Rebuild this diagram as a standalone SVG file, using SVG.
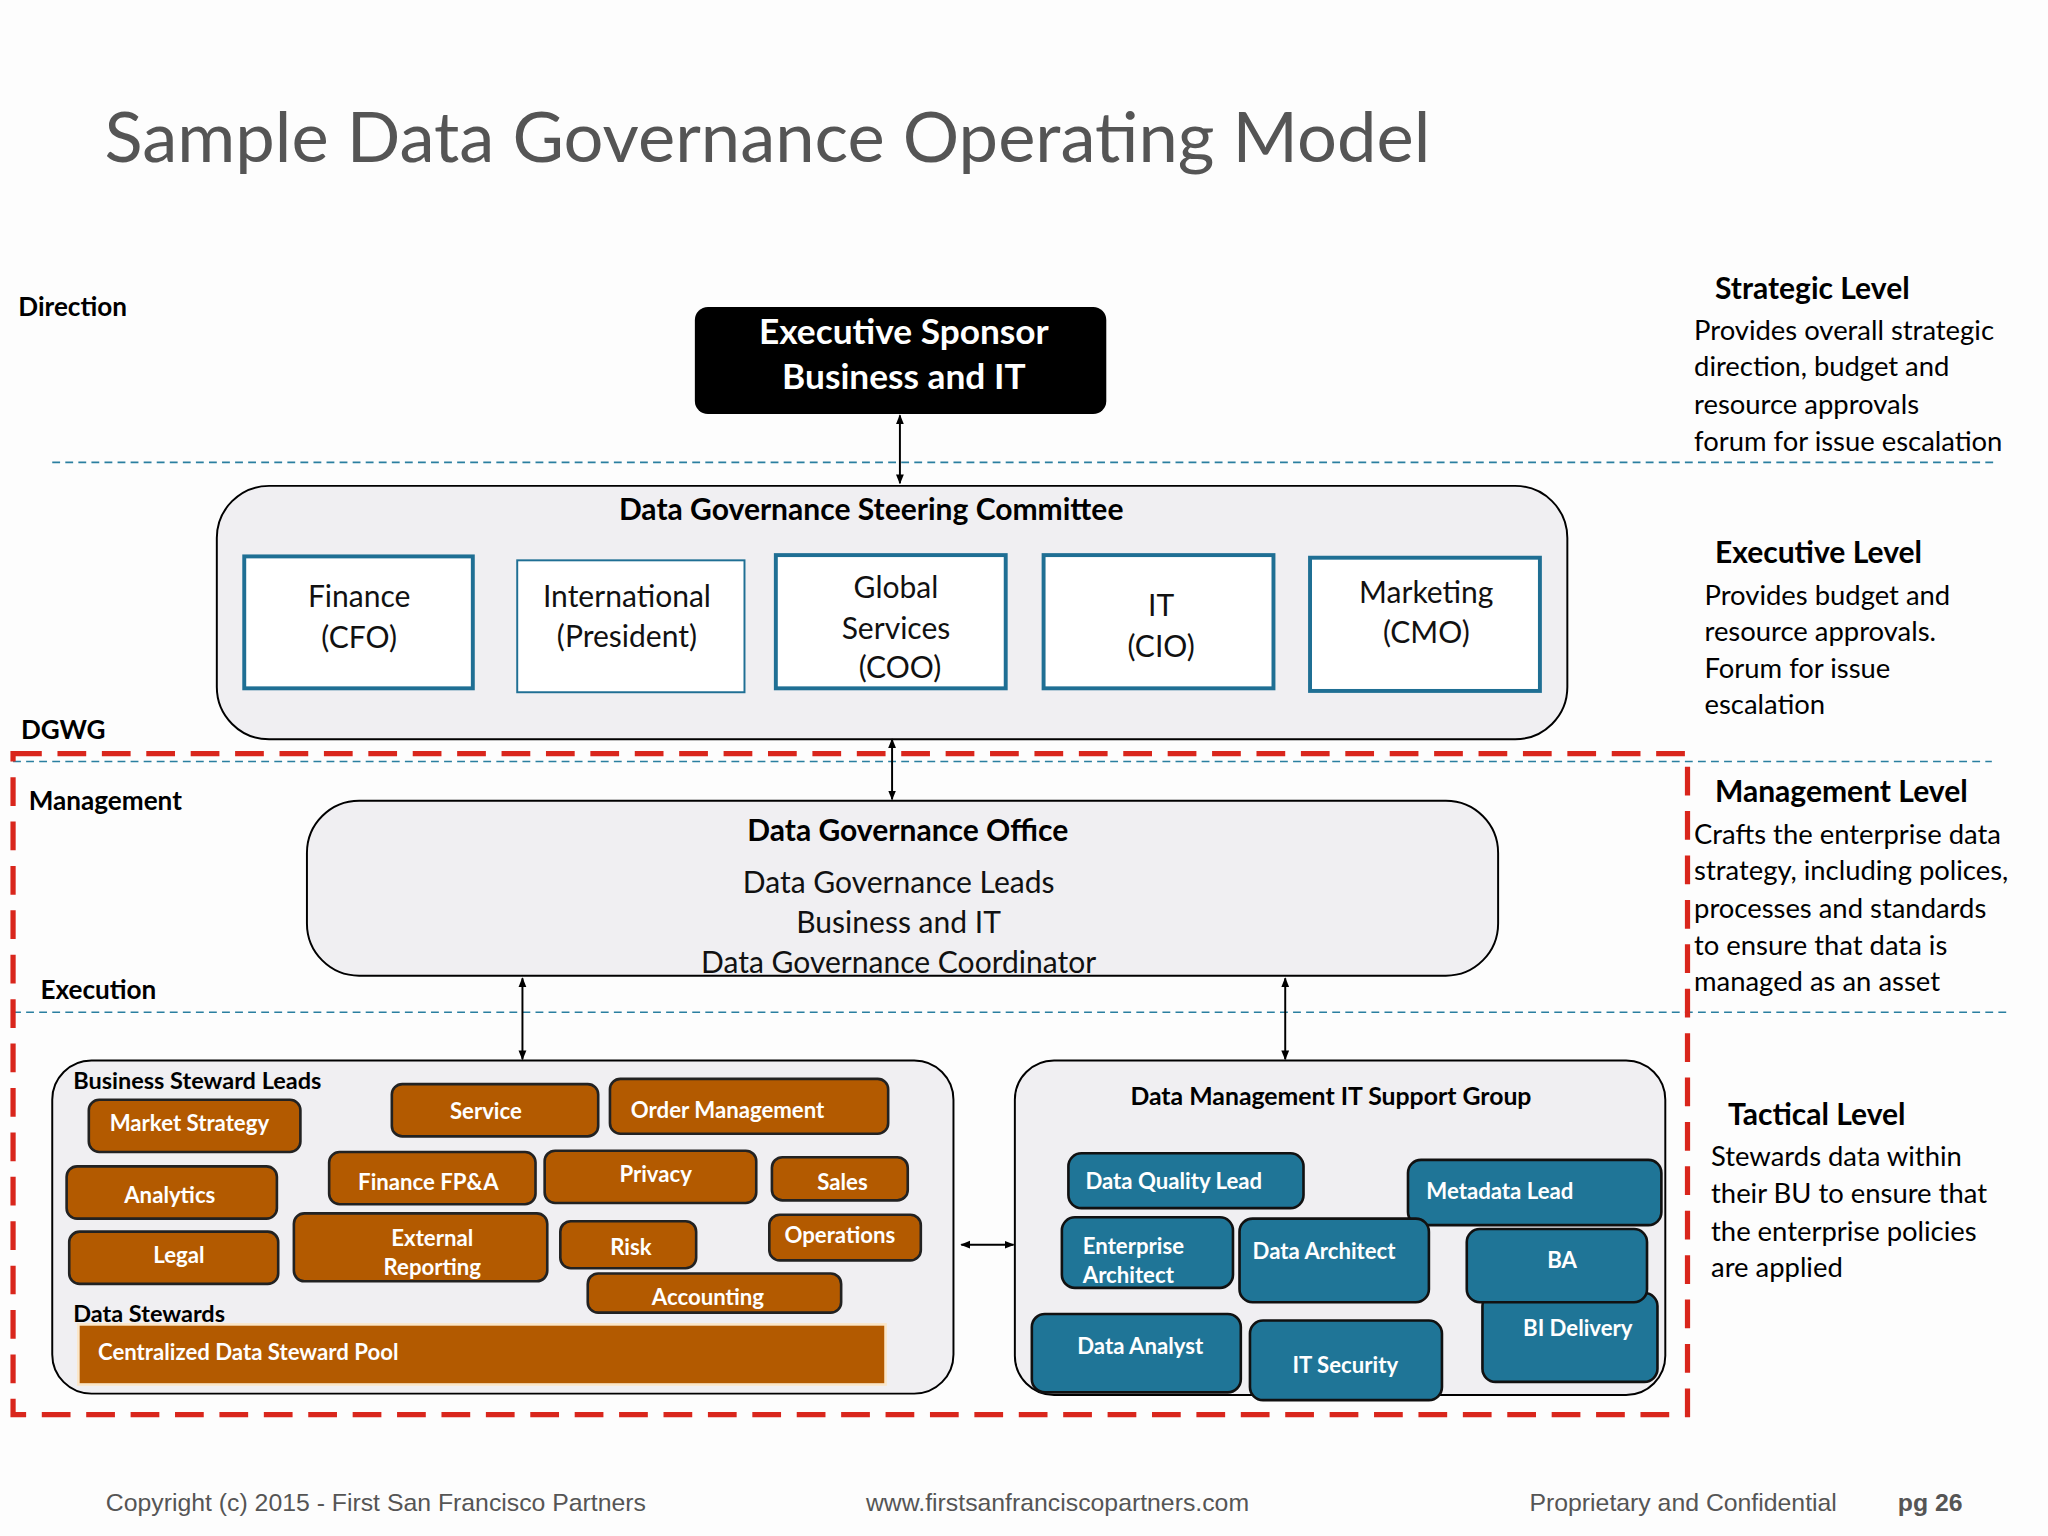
<svg xmlns="http://www.w3.org/2000/svg" width="2048" height="1536" viewBox="0 0 2048 1536">
<defs>
<marker id="ah" viewBox="0 0 10 10" refX="9" refY="5" markerWidth="5" markerHeight="5" orient="auto-start-reverse"><path d="M0,1 L10,5 L0,9 z" fill="#000"/></marker>
<style>
text{font-family:Lato,"Open Sans","Liberation Sans",sans-serif}
.lbl{font-weight:bold;font-size:20px;fill:#000}
.panel{fill:#f0eff2;stroke:#000;stroke-width:1.5}
.mem{fill:#fff;stroke:#1f6f94;stroke-width:3}
.mt{font-size:23px;fill:#111;text-anchor:middle}
.or{fill:#b35a00;stroke:#222;stroke-width:2}
.bl{fill:#1f7597;stroke:#111;stroke-width:2}
.wt{font-weight:bold;font-size:17px;fill:#fff}
.c{text-anchor:middle}
.hd{font-weight:bold;font-size:23px;fill:#000}
.bd{font-size:21px;fill:#000}
.bdash{stroke:#2a7fa0;stroke-width:1.2;stroke-dasharray:6 4;fill:none}
.ft{font-family:"Liberation Sans",Arial,sans-serif;font-size:19px;fill:#555}
.cn{stroke:#000;stroke-width:1.5;fill:none;marker-start:url(#ah);marker-end:url(#ah)}
</style>
</defs>
<rect width="2048" height="1536" fill="#fdfdfd"/>
<g transform="scale(1.30612)">
<text x="80" y="124" style="font-size:54px;fill:#555">Sample Data Governance Operating Model</text>
<text class="lbl" x="14" y="242">Direction</text>
<text class="lbl" x="16" y="566">DGWG</text>
<text class="lbl" x="22" y="620">Management</text>
<text class="lbl" x="31" y="765">Execution</text>
<line class="bdash" x1="40" y1="354" x2="1530" y2="354"/>
<line class="bdash" x1="10" y1="583" x2="1525" y2="583"/>
<line class="bdash" x1="10" y1="775" x2="1540" y2="775"/>
<rect x="10" y="577" width="1282" height="506" fill="none" stroke="#d9261c" stroke-width="4" stroke-dasharray="22 12"/>

<g id="sponsor"><rect x="532" y="235" width="315" height="82" rx="10" fill="#000"/>
<text x="692" y="263" class="c" style="font-weight:bold;font-size:27px;fill:#fff">Executive Sponsor</text>
<text x="692" y="298" class="c" style="font-weight:bold;font-size:27px;fill:#fff">Business and IT</text></g>

<g id="steering"><rect class="panel" x="166" y="372" width="1034" height="194" rx="40"/>
<text x="667" y="398" class="c hd">Data Governance Steering  Committee</text></g>
<g id="finance"><rect class="mem" x="187" y="426" width="175" height="101"/><text class="mt" x="275" y="465">Finance</text><text class="mt" x="275" y="496">(CFO)</text></g>
<g id="intl"><rect class="mem" style="stroke-width:1.5" x="396" y="429" width="174" height="101"/><text class="mt" x="480" y="465">International</text><text class="mt" x="480" y="495">(President)</text></g>
<g id="global"><rect class="mem" x="594" y="425" width="176" height="102"/><text class="mt" x="686" y="458">Global</text><text class="mt" x="686" y="489">Services</text><text class="mt" x="689" y="519">(COO)</text></g>
<g id="it"><rect class="mem" x="799" y="425" width="176" height="102"/><text class="mt" x="889" y="472">IT</text><text class="mt" x="889" y="503">(CIO)</text></g>
<g id="marketing"><rect class="mem" x="1003" y="427" width="176" height="102"/><text class="mt" x="1092" y="462">Marketing</text><text class="mt" x="1092" y="492">(CMO)</text></g>

<g id="dgo"><rect class="panel" x="235" y="613" width="912" height="134" rx="40"/>
<text x="695" y="644" class="c hd">Data Governance Office</text>
<text class="mt" x="688" y="684">Data Governance Leads</text>
<text class="mt" x="688" y="714">Business and IT</text>
<text class="mt" x="688" y="745">Data Governance Coordinator</text></g>

<g id="business"><rect class="panel" x="40" y="812" width="690" height="255" rx="30"/>
<text x="56" y="834" style="font-weight:bold;font-size:18px">Business Steward Leads</text>
<text x="56" y="1012" style="font-weight:bold;font-size:18px">Data Stewards</text></g>
<g id="mkt"><rect class="or" x="68" y="842" width="162" height="40" rx="8"/><text class="wt c" x="145" y="866">Market Strategy</text></g>
<g id="service"><rect class="or" x="300" y="830" width="158" height="40" rx="8"/><text class="wt c" x="372" y="857">Service</text></g>
<g id="order"><rect class="or" x="467" y="826" width="213" height="42" rx="8"/><text class="wt" x="483" y="856">Order Management</text></g>
<g id="analytics"><rect class="or" x="51" y="893" width="161" height="40" rx="8"/><text class="wt c" x="130" y="921">Analytics</text></g>
<g id="fpa"><rect class="or" x="252" y="882" width="158" height="40" rx="8"/><text class="wt c" x="328" y="911">Finance FP&amp;A</text></g>
<g id="privacy"><rect class="or" x="417" y="881" width="162" height="40" rx="8"/><text class="wt c" x="502" y="905">Privacy</text></g>
<g id="sales"><rect class="or" x="591" y="886" width="104" height="33" rx="8"/><text class="wt c" x="645" y="911">Sales</text></g>
<g id="legal"><rect class="or" x="53" y="943" width="160" height="40" rx="8"/><text class="wt c" x="137" y="967">Legal</text></g>
<g id="ext"><rect class="or" x="225" y="929" width="194" height="52" rx="8"/><text class="wt c" x="331" y="954">External</text><text class="wt c" x="331" y="976">Reporting</text></g>
<g id="risk"><rect class="or" x="429" y="935" width="104" height="36" rx="8"/><text class="wt c" x="483" y="961">Risk</text></g>
<g id="ops"><rect class="or" x="589" y="930" width="116" height="35" rx="8"/><text class="wt c" x="643" y="952">Operations</text></g>
<g id="acct"><rect class="or" x="450" y="975" width="194" height="30" rx="8"/><text class="wt c" x="542" y="999">Accounting</text></g>
<g id="pool"><rect x="60" y="1014" width="618" height="46" fill="#b35a00" stroke="#fbe6c8" stroke-width="2"/><text class="wt" x="75" y="1041">Centralized Data Steward Pool</text></g>

<g id="itgroup"><rect class="panel" x="777" y="812" width="498" height="256" rx="30"/>
<text x="1019" y="846" class="c" style="font-weight:bold;font-size:19px">Data Management IT Support Group</text></g>
<g id="dql"><rect class="bl" x="818" y="883" width="180" height="42" rx="10"/><text class="wt" x="831" y="910">Data Quality Lead</text></g>
<g id="meta"><rect class="bl" x="1078" y="888" width="194" height="50" rx="10"/><text class="wt" x="1092" y="918">Metadata Lead</text></g>
<g id="ea"><rect class="bl" x="813" y="932" width="131" height="54" rx="10"/><text class="wt" x="829" y="960">Enterprise</text><text class="wt" x="829" y="982">Architect</text></g>
<g id="da"><rect class="bl" x="949" y="933" width="145" height="64" rx="10"/><text class="wt" x="959" y="964">Data Architect</text></g>
<g id="bi"><rect class="bl" x="1135" y="990" width="134" height="68" rx="10"/><text class="wt c" x="1208" y="1023">BI Delivery</text></g>
<g id="ba"><rect class="bl" x="1123" y="941" width="138" height="56" rx="10"/><text class="wt c" x="1196" y="971">BA</text></g>
<g id="analyst"><rect class="bl" x="790" y="1006" width="160" height="60" rx="10"/><text class="wt c" x="873" y="1037">Data Analyst</text></g>
<g id="sec"><rect class="bl" x="957" y="1011" width="147" height="61" rx="10"/><text class="wt c" x="1030" y="1051">IT Security</text></g>

<g id="connectors">
<line class="cn" x1="689" y1="318" x2="689" y2="370"/>
<line class="cn" x1="683" y1="566" x2="683" y2="612"/>
<line class="cn" x1="400" y1="749" x2="400" y2="811"/>
<line class="cn" x1="984" y1="749" x2="984" y2="811"/>
<line class="cn" x1="736" y1="953" x2="776" y2="953"/>
</g>

<g id="levels">
<text class="hd" x="1313" y="229">Strategic Level</text>
<text class="bd" x="1297" y="260">Provides overall strategic</text>
<text class="bd" x="1297" y="288">direction, budget and</text>
<text class="bd" x="1297" y="317">resource approvals</text>
<text class="bd" x="1297" y="345">forum for issue  escalation</text>
<text class="hd" x="1313" y="431">Executive Level</text>
<text class="bd" x="1305" y="463">Provides budget and</text>
<text class="bd" x="1305" y="491">resource approvals.</text>
<text class="bd" x="1305" y="519">Forum for issue</text>
<text class="bd" x="1305" y="547">escalation</text>
<text class="hd" x="1313" y="614">Management  Level</text>
<text class="bd" x="1297" y="646">Crafts the enterprise data</text>
<text class="bd" x="1297" y="674">strategy, including polices,</text>
<text class="bd" x="1297" y="703">processes and standards</text>
<text class="bd" x="1297" y="731">to ensure that data is</text>
<text class="bd" x="1297" y="759">managed as an asset</text>
<text class="hd" x="1323" y="861">Tactical  Level</text>
<text class="bd" x="1310" y="893">Stewards data within</text>
<text class="bd" x="1310" y="921">their  BU to ensure that</text>
<text class="bd" x="1310" y="950">the enterprise policies</text>
<text class="bd" x="1310" y="978">are applied</text>
</g>

<text class="ft" x="81" y="1157">Copyright (c) 2015 - First San Francisco Partners</text>
<text class="ft" x="663" y="1157">www.firstsanfranciscopartners.com</text>
<text class="ft" x="1171" y="1157">Proprietary and Confidential</text>
<text class="ft" x="1453" y="1157" style="font-weight:bold">pg 26</text>
</g>
</svg>
